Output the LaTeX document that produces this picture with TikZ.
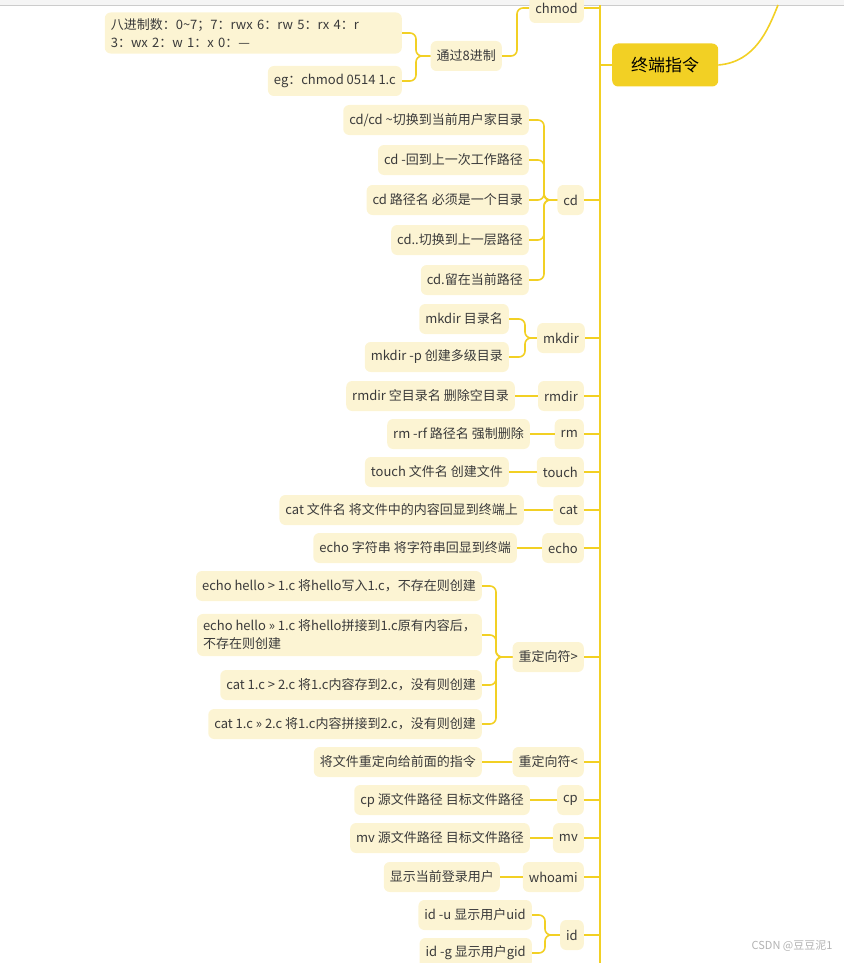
\documentclass[tikz,border=0pt]{standalone}
\usepackage{fontspec}
\setmainfont{Noto Sans CJK SC}
\definecolor{ln}{HTML}{F2D024}
\definecolor{bx}{HTML}{FCF4D3}
\definecolor{tx}{HTML}{3A3A3A}
\begin{document}
\begin{tikzpicture}[x=1pt,y=-1pt,
  box/.style={fill=bx,rounded corners=6pt,text=tx,font=\fontsize{13}{18}\selectfont,inner xsep=6pt,minimum height=30pt,anchor=east,align=left},
  conn/.style={draw=ln,line width=1.6pt,rounded corners=6pt}]
\useasboundingbox (0,0) rectangle (844,963);
\fill[gray!8] (0,0) rectangle (844,5);
\draw[gray!40] (0,5) -- (844,5);
\newcommand\lf[4]{\node[box] (#1) at (#2,#3) {#4};}
% trunk
\draw[conn] (600,5) -- (600,963);
\node[fill=ln,rounded corners=6pt,minimum width=106pt,minimum height=43pt,font=\fontsize{17}{20}\selectfont,anchor=west] (root) at (612,65) {终端指令};
\coordinate (top) at (778,5);
\draw[conn] (600,65) -- (root.west);
\draw[ln,line width=1.6pt] (root.east) .. controls (755,62) and (768,30) .. (top);
% children
\lf{chmod}{584}{8}{chmod}
\lf{cd}{584}{200}{cd}
\lf{mkdir}{585}{338}{mkdir}
\lf{rmdir}{584}{396}{rmdir}
\lf{rm}{584}{434}{rm}
\lf{touch}{584}{472}{touch}
\lf{cat}{584}{510}{cat}
\lf{echo}{584}{548}{echo}
\lf{rg}{584}{657}{重定向符>}
\lf{rl}{584}{762}{重定向符<}
\lf{cp}{584}{800}{cp}
\lf{mv}{584}{838}{mv}
\lf{who}{584}{877}{whoami}
\lf{id}{584}{935}{id}
\foreach \n in {chmod,cd,mkdir,rmdir,rm,touch,cat,echo,rg,rl,cp,mv,who,id}
  \draw[conn] (\n.east) -- (\n.east -| 600,0);
% chmod
\lf{oct}{502}{56}{通过8进制}
\draw[conn] (chmod.west) -- (517,8) |- (oct.east);
\node[box,text width=285pt,inner ysep=6pt] (o1) at (402,33) {八进制数：0{\textasciitilde}7；7：rwx 6：rw 5：rx 4：r\\3：wx 2：w 1：x 0：---};
\lf{o2}{402}{81}{eg：chmod 0514 1.c}
\foreach \n in {o1,o2} \draw[conn] (oct.west) -- (416,56) |- (\n.east);
% cd
\lf{c1}{529}{120}{cd/cd {\textasciitilde}切换到当前用户家目录}
\lf{c2}{529}{160}{cd -回到上一次工作路径}
\lf{c3}{529}{200}{cd 路径名 必须是一个目录}
\lf{c4}{529}{240}{cd..切换到上一层路径}
\lf{c5}{529}{280}{cd.留在当前路径}
\foreach \n in {c1,c2,c3,c4,c5} \draw[conn] (cd.west) -- (544,200) |- (\n.east);
% mkdir
\lf{m1}{509}{319}{mkdir 目录名}
\lf{m2}{509}{357}{mkdir -p 创建多级目录}
\foreach \n in {m1,m2} \draw[conn] (mkdir.west) -- (525,338) |- (\n.east);
% singles
\lf{rd1}{515}{396}{rmdir 空目录名 删除空目录}
\lf{rm1}{530}{434}{rm -rf 路径名 强制删除}
\lf{t1}{509}{472}{touch 文件名 创建文件}
\lf{ca1}{524}{510}{cat 文件名 将文件中的内容回显到终端上}
\lf{e1}{517}{548}{echo 字符串 将字符串回显到终端}
\lf{rl1}{482}{762}{将文件重定向给前面的指令}
\lf{cp1}{530}{800}{cp 源文件路径 目标文件路径}
\lf{mv1}{530}{838}{mv 源文件路径 目标文件路径}
\lf{w1}{500}{877}{显示当前登录用户}
\draw[conn] (rmdir.west) -- (rd1.east);
\draw[conn] (rm.west) -- (rm1.east);
\draw[conn] (touch.west) -- (t1.east);
\draw[conn] (cat.west) -- (ca1.east);
\draw[conn] (echo.west) -- (e1.east);
\draw[conn] (rl.west) -- (rl1.east);
\draw[conn] (cp.west) -- (cp1.east);
\draw[conn] (mv.west) -- (mv1.east);
\draw[conn] (who.west) -- (w1.east);
% redirect >
\lf{r1}{482}{586}{echo hello > 1.c 将hello写入1.c，不存在则创建}
\node[box,inner ysep=6pt] (r2) at (482,635) {echo hello >> 1.c 将hello拼接到1.c原有内容后，\\不存在则创建};
\lf{r3}{482}{685}{cat 1.c > 2.c 将1.c内容存到2.c，没有则创建}
\lf{r4}{482}{724}{cat 1.c >> 2.c 将1.c内容拼接到2.c，没有则创建}
\foreach \n in {r1,r2,r3,r4} \draw[conn] (rg.west) -- (496,657) |- (\n.east);
% id
\lf{i1}{532}{915}{id -u 显示用户uid}
\lf{i2}{532}{953}{id -g 显示用户gid}
\foreach \n in {i1,i2} \draw[conn] (id.west) -- (545,935) |- (\n.east);
\node[text=gray!60,font=\fontsize{11}{13}\selectfont,anchor=east] (wm) at (836,946) {CSDN @豆豆泥1};
\end{tikzpicture}
\end{document}
